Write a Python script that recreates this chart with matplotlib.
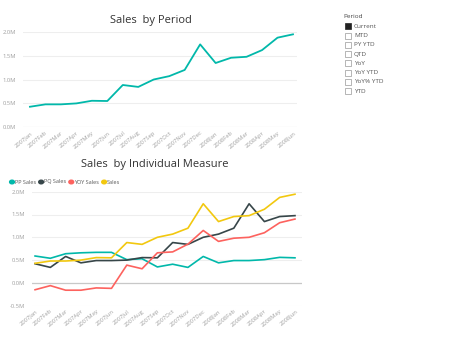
import matplotlib
matplotlib.use("Agg")
import matplotlib.pyplot as plt
from matplotlib.patches import Rectangle
from matplotlib.ticker import FuncFormatter

plt.rcParams['font.family'] = ['Open Sans', 'DejaVu Sans']

months = ["2007Jan", "2007Feb", "2007Mar", "2007Apr", "2007May", "2007Jun",
          "2007Jul", "2007Aug", "2007Sep", "2007Oct", "2007Nov", "2007Dec",
          "2008Jan", "2008Feb", "2008Mar", "2008Apr", "2008May", "2008Jun"]

sales = [0.43, 0.48, 0.48, 0.50, 0.555, 0.55, 0.885, 0.845, 1.00, 1.07, 1.20, 1.735,
         1.345, 1.455, 1.475, 1.615, 1.875, 1.945]
pp_sales = [0.59, 0.54, 0.64, 0.66, 0.67, 0.67, 0.51, 0.53, 0.35, 0.41, 0.34, 0.58,
            0.44, 0.49, 0.49, 0.51, 0.56, 0.55]
pq_sales = [0.42, 0.34, 0.58, 0.44, 0.49, 0.49, 0.50, 0.555, 0.55, 0.885, 0.845, 1.00,
            1.07, 1.20, 1.735, 1.345, 1.455, 1.475]
yoy_sales = [-0.15, -0.06, -0.16, -0.16, -0.11, -0.12, 0.39, 0.31, 0.66, 0.68, 0.85, 1.15,
             0.91, 0.98, 1.00, 1.10, 1.32, 1.40]

series_names = ["PP Sales", "PQ Sales", "YOY Sales", "Sales"]
series_colors = ["#01B8AA", "#374649", "#FD625E", "#F2C80F"]

period_items = ["Current", "MTD", "PY YTD", "QTD", "YoY", "YoY YTD", "YoY% YTD", "YTD"]

W, H = 474, 359
fig = plt.figure(figsize=(W / 100, H / 100), dpi=100)

def fx(px):
    return px / W

def fy(py):
    return 1 - py / H

fmt = FuncFormatter(lambda v, p: f"{v:.1f}M")
label_color = "#a0a0a0"
grid_color = "#eeeeee"

def style_axes(ax, yticks, zero_line=False):
    for s in ax.spines.values():
        s.set_visible(False)
    ax.set_yticks(yticks)
    ax.yaxis.set_major_formatter(fmt)
    ax.tick_params(axis='both', length=0, labelsize=4.2, colors=label_color)
    ax.tick_params(axis='y', pad=5)
    ax.tick_params(axis='x', pad=2)
    ax.grid(axis='y', color=grid_color, linewidth=0.8)
    ax.set_axisbelow(True)
    ax.set_xticks(range(len(months)))
    ax.set_xticklabels(months, rotation=40, ha='right', va='top', rotation_mode='anchor')
    if zero_line:
        ax.axhline(0, color="#c8c8c8", linewidth=0.9, zorder=1)

# Top chart
ax1 = fig.add_axes([fx(23), fy(127.3), fx(297 - 23), (127.3 - 31.7) / H])
ax1.plot(range(len(months)), sales, color="#01B8AA", linewidth=1.3)
ax1.set_xlim(-0.45, 17.26)
ax1.set_ylim(0, 2.0)
style_axes(ax1, [0, 0.5, 1.0, 1.5, 2.0])
ax1.axhline(0, color="#e6e6e6", linewidth=0.8, zorder=1)
fig.text(fx(151), fy(20), "Sales  by Period", ha='center', va='center', fontsize=8, color="#333333")

# Bottom chart
ax2 = fig.add_axes([fx(32), fy(305.7), fx(302 - 32), (305.7 - 191.7) / H])
for name, vals, c in zip(series_names, [pp_sales, pq_sales, yoy_sales, sales], series_colors):
    ax2.plot(range(len(months)), vals, color=c, linewidth=1.2, label=name)
ax2.set_xlim(-0.2, 17.46)
ax2.set_ylim(-0.5, 2.0)
style_axes(ax2, [-0.5, 0, 0.5, 1.0, 1.5, 2.0], zero_line=True)
fig.text(fx(155), fy(165), "Sales  by Individual Measure", ha='center', va='center', fontsize=8, color="#333333")

# Legend
lx = 12
for name, c in zip(series_names, series_colors):
    fig.patches.append(plt.Circle((fx(lx), fy(182)), 2.4 / W, transform=fig.transFigure,
                                  color=c, figure=fig))
    t = fig.text(fx(lx + 3), fy(182), name, ha='left', va='center', fontsize=4.0, color="#555555")
    fig.canvas.draw()
    bb = t.get_window_extent()
    lx = bb.x1 + 5

# Slicer
fig.text(fx(343), fy(16), "Period", ha='left', va='center', fontsize=4.6, color="#444444")
for i, item in enumerate(period_items):
    y = 26.3 + i * 9.25
    filled = (i == 0)
    fig.patches.append(Rectangle((fx(345), fy(y + 3)), 6 / W, 6 / H, transform=fig.transFigure,
                                 facecolor="#222222" if filled else "white",
                                 edgecolor="#222222" if filled else "#999999",
                                 linewidth=0.5, figure=fig))
    fig.text(fx(354), fy(y), item, ha='left', va='center', fontsize=4.6, color="#555555")

fig.savefig("out.png", dpi=100)
